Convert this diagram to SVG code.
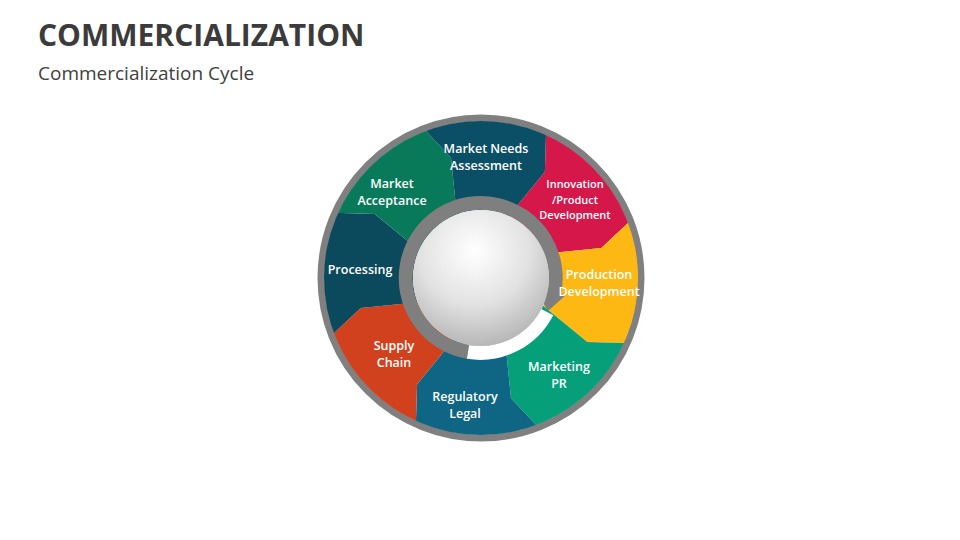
<svg xmlns="http://www.w3.org/2000/svg" width="960" height="540" viewBox="0 0 960 540">
<defs>
<clipPath id="disc"><circle cx="481" cy="278" r="157"/></clipPath>
<radialGradient id="silver" cx="0.45" cy="0.3" r="0.8">
<stop offset="0" stop-color="#FFFFFF"/><stop offset="0.5" stop-color="#E2E2E2"/><stop offset="1" stop-color="#A9A9A9"/>
</radialGradient>
<style>
.lbl{font-family:"Open Sans","Liberation Sans",sans-serif;font-size:12.5px;font-weight:600;fill:#fff;text-anchor:middle}
.sm{font-size:11px}
</style>
</defs>
<rect width="960" height="540" fill="#fff"/>
<text x="38" y="46" font-family="'Open Sans','Liberation Sans',sans-serif" font-size="30" font-weight="700" fill="#3B3B3B">COMMERCIALIZATION</text>
<text x="38" y="80" font-family="'Open Sans','Liberation Sans',sans-serif" font-size="19" fill="#404040">Commercialization Cycle</text>
<circle cx="481" cy="278" r="160" fill="#fff" stroke="#808080" stroke-width="7"/>
<g clip-path="url(#disc)">
<g id="innovation"><polygon points="546.6,115.7 544.9,171.7 503.5,222.4 536.2,254.6 601.3,248 642.1,209.6 649.2,106.8" fill="#D6174A"/></g>
<g id="production"><polygon points="642.1,209.6 601.3,248 536.2,254.6 536.6,300.5 587.3,341.9 643.3,343.6 721,276" fill="#FDB813"/></g>
<g id="marketing"><polygon points="643.3,343.6 587.3,341.9 536.6,300.5 504.4,333.2 511,398.3 549.4,439.1 652.2,446.2" fill="#05A07A"/></g>
<g id="regulatory"><polygon points="549.4,439.1 511,398.3 504.4,333.2 458.5,333.6 417.1,384.3 415.4,439.3 483.1,518" fill="#0E6584"/></g>
<g id="supply"><polygon points="415.4,439.3 417.1,384.3 458.5,333.6 425.8,301.4 360.7,308 319.9,346.4 312.8,449.2" fill="#D2411E"/></g>
<g id="processing"><polygon points="319.9,346.4 360.7,308 425.8,301.4 425.4,255.5 374.7,214.1 318.7,212.4 241,280.1" fill="#0B4A5C"/></g>
<g id="acceptance"><polygon points="318.7,212.4 374.7,214.1 425.4,255.5 457.6,222.8 451,157.7 412.6,116.9 309.8,109.8" fill="#087A5A"/></g>
<g id="needs"><polygon points="412.6,116.9 451,157.7 457.6,222.8 503.5,222.4 544.9,171.7 546.6,115.7 478.9,38" fill="#0B4F66"/></g>
</g>
<g id="hub">
<circle cx="481" cy="278" r="68" fill="#fff"/>
<path d="M468,351.9 A75,75 0 1 1 553.5,296" fill="none" stroke="#7F7F7F" stroke-width="14"/>
<path d="M547,312 A75,75 0 0 1 468,351.9" fill="none" stroke="#FFFFFF" stroke-width="14"/>
<polygon points="537,292 567,294 548,311" fill="#7F7F7F"/>
<circle cx="481" cy="278" r="68" fill="url(#silver)"/>
</g>
<g id="labels">
<text class="lbl" x="486" y="153">Market Needs</text><text class="lbl" x="486" y="170">Assessment</text>
<text class="lbl" x="392" y="188">Market</text><text class="lbl" x="392" y="205">Acceptance</text>
<text class="lbl sm" x="575" y="188">Innovation</text><text class="lbl sm" x="575" y="203.5">/Product</text><text class="lbl sm" x="575" y="219">Development</text>
<text class="lbl" x="360" y="274">Processing</text>
<text class="lbl" x="599" y="279">Production</text><text class="lbl" x="599" y="296">Development</text>
<text class="lbl" x="394" y="350">Supply</text><text class="lbl" x="394" y="367">Chain</text>
<text class="lbl" x="559" y="371">Marketing</text><text class="lbl" x="559" y="388">PR</text>
<text class="lbl" x="465" y="401">Regulatory</text><text class="lbl" x="465" y="418">Legal</text>
</g>
</svg>
